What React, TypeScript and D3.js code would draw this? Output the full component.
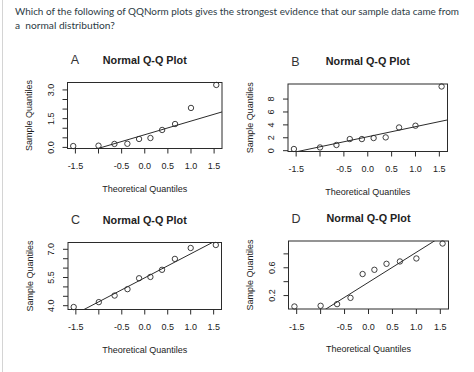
import React from "react";
import * as d3 from "d3";

// theoretical normal quantiles for n = 10 (shared by all four plots)
const theoretical = [-1.547, -1.0, -0.656, -0.376, -0.123, 0.123, 0.376, 0.656, 1.0, 1.547];

const sampleA = [0.07, 0.09, 0.18, 0.19, 0.44, 0.49, 0.91, 1.22, 2.06, 3.26];
const sampleB = [0.26, 0.5, 0.88, 1.8, 1.8, 1.96, 2.06, 3.6, 3.87, 9.95];
const sampleC = [3.93, 4.19, 4.54, 4.88, 5.46, 5.53, 5.91, 6.49, 7.07, 7.23];
const sampleD = [0.043, 0.053, 0.077, 0.167, 0.51, 0.571, 0.657, 0.691, 0.734, 0.949];

const panelLetters = ["A", "B", "C", "D"];

const xTicks = [-1.5, -1, -0.5, 0, 0.5, 1, 1.5];
const xTickLabels = ["-1.5", "", "-0.5", "0.0", "0.5", "1.0", "1.5"];

const yTicksA = [0, 0.5, 1, 1.5, 2, 2.5, 3];
const yLabelsA = ["0.0", "", "", "1.5", "", "", "3.0"];
const yTicksB = [0, 2, 4, 6, 8];
const yLabelsB = ["0", "2", "4", "6", "8"];
const yTicksC = [4, 4.5, 5, 5.5, 6, 6.5, 7];
const yLabelsC = ["4.0", "", "", "5.5", "", "", "7.0"];
const yTicksD = [0.2, 0.4, 0.6, 0.8];
const yLabelsD = ["0.2", "", "0.6", ""];

const question =
  "Which of the following of QQNorm plots gives the strongest evidence that our sample data came from";
const question2 = "a  normal distribution?";

const ink = "#2b2b2b";
const font = "'Liberation Sans', Arial, sans-serif";

// R style axis range: data extent padded by 4%
const padded = (v: number[]) => {
  const [lo, hi] = d3.extent(v) as [number, number];
  const p = (hi - lo) * 0.04;
  return [lo - p, hi + p];
};

// qqline: line through first and third quartiles
const qqline = (y: number[]) => {
  const s = [...y].sort(d3.ascending);
  const q1 = d3.quantileSorted(s, 0.25)!;
  const q3 = d3.quantileSorted(s, 0.75)!;
  const z = 0.6744898;
  const slope = (q3 - q1) / (2 * z);
  return { slope, intercept: q1 + z * slope };
};

type PanelProps = {
  letter: string;
  sample: number[];
  yTicks: number[];
  yLabels: string[];
  box: { x0: number; x1: number; y0: number; y1: number };
};

const Panel = ({ letter, sample, yTicks, yLabels, box }: PanelProps) => {
  const x = d3.scaleLinear().domain(padded(theoretical)).range([box.x0, box.x1]);
  const y = d3.scaleLinear().domain(padded(sample)).range([box.y1, box.y0]);
  const { slope, intercept } = qqline(sample);
  const [dx0, dx1] = x.domain();

  const line = d3.line<number>().x((t) => x(t)).y((t) => y(intercept + slope * t));
  const cx = box.x0 + (box.x1 - box.x0) / 2;
  const cy = box.y0 + (box.y1 - box.y0) / 2;
  const clipId = `clip-${letter}`;

  return (
    <g>
      <defs>
        <clipPath id={clipId}>
          <rect x={box.x0} y={box.y0} width={box.x1 - box.x0} height={box.y1 - box.y0} />
        </clipPath>
      </defs>
      <text x={box.x0 + 7.5} y={box.y0 - 22.5} dy="0.35em" textAnchor="middle" fontSize={12.5} fill="#333" fontFamily={font}>
        {letter}
      </text>
      <text x={cx} y={box.y0 - 22.5} dy="0.35em" textAnchor="middle" fontSize={10.8} fontWeight="bold" fill="#222" fontFamily={font}>
        Normal Q-Q Plot
      </text>
      <rect x={box.x0} y={box.y0} width={box.x1 - box.x0} height={box.y1 - box.y0} fill="none" stroke={ink} strokeWidth={1} />
      {xTicks.map((t, i) => (
        <g key={`xt${i}`}>
          <line x1={x(t)} x2={x(t)} y1={box.y1} y2={box.y1 + 5} stroke={ink} />
          <text x={x(t)} y={box.y1 + 17.5} dy="0.35em" textAnchor="middle" fontSize={9} fill="#222" fontFamily={font}>
            {xTickLabels[i]}
          </text>
        </g>
      ))}
      {yTicks.map((t, i) => (
        <g key={`yt${i}`}>
          <line x1={box.x0 - 5} x2={box.x0} y1={y(t)} y2={y(t)} stroke={ink} />
          <text
            transform={`translate(${box.x0 - 17},${y(t)}) rotate(-90)`}
            dy="0.35em"
            textAnchor="middle"
            fontSize={9}
            fill="#222"
            fontFamily={font}
          >
            {yLabels[i]}
          </text>
        </g>
      ))}
      <text x={cx} y={box.y1 + 40} dy="0.35em" textAnchor="middle" fontSize={9} fill="#222" fontFamily={font}>
        Theoretical Quantiles
      </text>
      <text
        transform={`translate(${box.x0 - 38.5},${cy}) rotate(-90)`}
        dy="0.35em"
        textAnchor="middle"
        fontSize={9}
        fill="#222"
        fontFamily={font}
      >
        Sample Quantiles
      </text>
      <path d={line([dx0, dx1]) ?? ""} fill="none" stroke={ink} strokeWidth={1} clipPath={`url(#${clipId})`} />
      {sample.map((v, i) => (
        <circle key={i} cx={x(theoretical[i])} cy={y(v)} r={2.7} fill="none" stroke={ink} strokeWidth={0.9} />
      ))}
    </g>
  );
};

export default function App() {
  const panels = [
    { sample: sampleA, yTicks: yTicksA, yLabels: yLabelsA, box: { x0: 67.5, x1: 222, y0: 82.5, y1: 148.5 } },
    { sample: sampleB, yTicks: yTicksB, yLabels: yLabelsB, box: { x0: 288, x1: 447.5, y0: 84, y1: 151.5 } },
    { sample: sampleC, yTicks: yTicksC, yLabels: yLabelsC, box: { x0: 68, x1: 221.5, y0: 242.5, y1: 309.5 } },
    { sample: sampleD, yTicks: yTicksD, yLabels: yLabelsD, box: { x0: 288.5, x1: 448.5, y0: 241, y1: 309 } },
  ];

  return (
    <svg
      width={474}
      height={372}
      viewBox="0 0 474 372"
      style={{ position: "absolute", left: 0, top: 0, background: "#fff" }}
    >
      <rect x={0} y={0} width={474} height={372} fill="#fff" />
      <line x1={2.5} x2={2.5} y1={0} y2={372} stroke="#d4d4d4" strokeWidth={1} />
      <text
        x={15}
        y={11}
        dy="0.35em"
        fontSize={10.2}
        textLength={444}
        lengthAdjust="spacingAndGlyphs"
        fill="#2d3b45"
        fontFamily="Lato, sans-serif"
      >
        {question}
      </text>
      <text x={15} y={25.5} dy="0.35em" fontSize={10.2} fill="#2d3b45" fontFamily="Lato, sans-serif" style={{ whiteSpace: "pre" }}>
        {question2}
      </text>
      {panels.map((p, i) => (
        <Panel key={i} letter={panelLetters[i]} {...p} />
      ))}
    </svg>
  );
}
